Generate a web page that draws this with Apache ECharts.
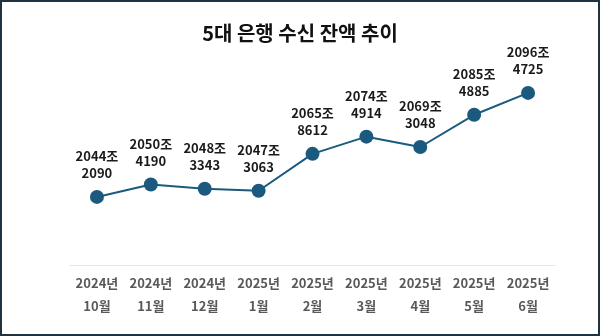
<!DOCTYPE html>
<html>
<head>
<meta charset="utf-8">
<script src="https://cdn.jsdelivr.net/npm/echarts@6/dist/echarts.min.js"></script>
<style>
  html, body { margin: 0; padding: 0; background: #fff; }
  #frame { width: 600px; height: 336px; box-sizing: border-box; border: 2px solid #1f3242; background: #fff; }
  #chart { width: 596px; height: 332px; }
</style>
</head>
<body>
<div id="frame"><div id="chart"></div></div>
<script>
// Month categories (two-line labels: year / month)
const years = ['2024년', '2024년', '2024년', '2025년', '2025년', '2025년', '2025년', '2025년', '2025년'];
const months = ['10월', '11월', '12월', '1월', '2월', '3월', '4월', '5월', '6월'];
// Deposit balance of the five major banks, in 억 won
const balances = [20442090, 20504190, 20483343, 20473063, 20658612, 20744914, 20693048, 20854885, 20964725];

const categories = years.map((y, i) => y + '\n' + months[i]);

function fmtBalance(v) {
  const jo = Math.floor(v / 10000);
  const eok = String(v % 10000).padStart(4, '0');
  return jo + '조\n' + eok;
}

const chart = echarts.init(document.getElementById('chart'));
chart.setOption({
  animation: false,
  textStyle: { fontFamily: '"Noto Sans CJK KR", "Noto Sans", sans-serif' },
  title: {
    text: '5대 은행 수신 잔액 추이',
    left: 'center',
    top: 16,
    textStyle: { fontSize: 20, fontWeight: 'bold', color: '#111', fontFamily: '"Noto Sans CJK KR", sans-serif' }
  },
  grid: { left: 68, right: 43, top: 64, bottom: 69 },
  xAxis: {
    type: 'category',
    data: categories,
    boundaryGap: true,
    axisLine: { lineStyle: { color: '#e6e6e6', width: 1 } },
    axisTick: { show: false },
    axisLabel: {
      interval: 0,
      hideOverlap: false,
      color: '#595959',
      fontSize: 13,
      fontWeight: 'bold',
      lineHeight: 23,
      margin: 7,
      fontFamily: '"Noto Sans CJK KR", sans-serif'
    }
  },
  yAxis: {
    type: 'value',
    min: 20100000,
    max: 21100000,
    show: false,
    splitLine: { show: false }
  },
  series: [{
    type: 'line',
    data: balances,
    symbol: 'circle',
    symbolSize: 14,
    itemStyle: { color: '#1b5a7e' },
    lineStyle: { color: '#1b5a7e', width: 2 },
    label: {
      show: true,
      position: 'top',
      distance: 8,
      formatter: p => fmtBalance(p.value),
      color: '#1a1a1a',
      fontSize: 13,
      fontWeight: 'bold',
      lineHeight: 17,
      fontFamily: '"Noto Sans CJK KR", sans-serif'
    }
  }]
});
</script>
</body>
</html>
